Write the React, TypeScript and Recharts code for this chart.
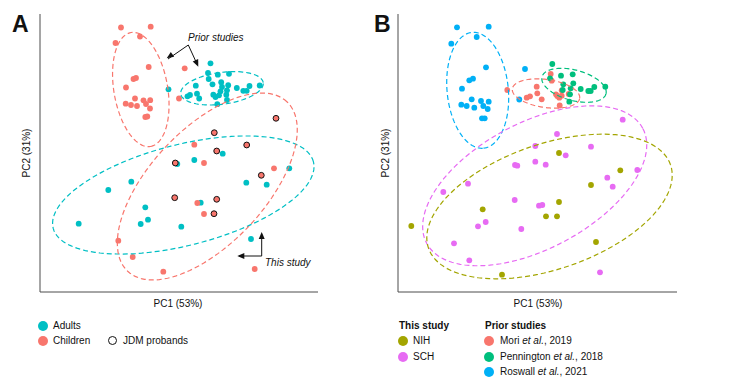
import React from 'react';
import { ScatterChart, Scatter, XAxis, YAxis, ReferenceLine, ReferenceDot } from 'recharts';

// panel A: PC coordinates (arbitrary units)
const adultsPrior = [
  { x: 170.5, y: 228.7 }, { x: 168, y: 219 }, { x: 168.7, y: 213 }, { x: 177.8, y: 217.3 },
  { x: 189, y: 218.2 }, { x: 128.5, y: 202.7 }, { x: 155.8, y: 206.3 }, { x: 147.5, y: 195.7 },
  { x: 150, y: 197 }, { x: 157, y: 198.3 }, { x: 159.2, y: 193.5 }, { x: 172.5, y: 207.7 },
  { x: 181.2, y: 209.8 }, { x: 182, y: 205 }, { x: 188.2, y: 206.8 }, { x: 187, y: 201.7 },
  { x: 173.3, y: 197.3 }, { x: 175.5, y: 195 }, { x: 179, y: 196.7 }, { x: 180.5, y: 200.7 },
  { x: 186.3, y: 197.3 }, { x: 187, y: 192 }, { x: 177.3, y: 187.8 }, { x: 196.8, y: 204 },
  { x: 203.3, y: 201.2 }, { x: 206.7, y: 201.2 }, { x: 209.5, y: 206 }, { x: 219.7, y: 206.5 },
];
const childrenPrior = [
  { x: 81, y: 264.5 }, { x: 110.7, y: 265.3 }, { x: 100, y: 255.5 }, { x: 75.5, y: 249 },
  { x: 108.7, y: 225 }, { x: 93.5, y: 213 }, { x: 96, y: 214 }, { x: 86, y: 204.5 },
  { x: 95, y: 193.5 }, { x: 85.7, y: 188.3 }, { x: 91, y: 187 }, { x: 97, y: 186 },
  { x: 103.5, y: 191.7 }, { x: 110.2, y: 191.8 }, { x: 106, y: 188 }, { x: 110, y: 183.5 },
  { x: 105.3, y: 175 }, { x: 107.3, y: 175.5 }, { x: 144.7, y: 223.7 }, { x: 139, y: 193.5 },
];
const adultsStudy = [
  { x: 182.7, y: 138.3 }, { x: 154.3, y: 132 }, { x: 137.3, y: 128 }, { x: 249.3, y: 123.7 },
  { x: 206.3, y: 109.3 }, { x: 226.7, y: 107.3 }, { x: 91.3, y: 110.3 }, { x: 68.3, y: 102 },
  { x: 160.7, y: 89.3 }, { x: 105.3, y: 84.7 }, { x: 108, y: 72.3 }, { x: 100.7, y: 68 },
  { x: 38.7, y: 68.3 }, { x: 141.3, y: 65.3 }, { x: 211, y: 53 },
];
const childrenStudy = [
  { x: 154.3, y: 147.3 }, { x: 164, y: 129 }, { x: 234, y: 123.7 }, { x: 157.3, y: 89 },
  { x: 164, y: 78 }, { x: 78.3, y: 51.3 }, { x: 92.7, y: 35 }, { x: 123.3, y: 20.3 },
  { x: 214.7, y: 23 },
];
const jdmProbands = [
  { x: 236, y: 173.7 }, { x: 174.3, y: 159.3 }, { x: 206.7, y: 147 }, { x: 176.7, y: 141 },
  { x: 135.3, y: 129 }, { x: 221.3, y: 116.7 }, { x: 134.7, y: 94.3 }, { x: 176.7, y: 92.7 },
  { x: 174, y: 78.3 },
];

// panel B
const roswall = [
  { x: 59, y: 264.7 }, { x: 90.7, y: 265.3 }, { x: 78.7, y: 255 }, { x: 53.3, y: 248.3 },
  { x: 88, y: 224.7 }, { x: 71.3, y: 211.7 }, { x: 75, y: 213.3 }, { x: 64, y: 203.3 },
  { x: 73.7, y: 192.7 }, { x: 63.3, y: 187.3 }, { x: 68.7, y: 186 }, { x: 76.3, y: 184.3 },
  { x: 83, y: 191 }, { x: 90.7, y: 190.3 }, { x: 85.3, y: 186 }, { x: 89.7, y: 183 },
  { x: 84, y: 173.7 }, { x: 86.7, y: 173.7 }, { x: 127, y: 223 }, { x: 121.3, y: 192.5 },
];
const mori = [
  { x: 109.3, y: 202 }, { x: 152.7, y: 218 }, { x: 153.7, y: 211.3 }, { x: 138.7, y: 205.3 },
  { x: 139.3, y: 198.7 }, { x: 143.7, y: 192.7 }, { x: 128.7, y: 194.3 }, { x: 132, y: 195.7 },
  { x: 158, y: 197.7 }, { x: 161.3, y: 194.3 }, { x: 159.3, y: 196 }, { x: 163.7, y: 196.3 },
  { x: 163.7, y: 201.7 }, { x: 170.7, y: 198 }, { x: 161.7, y: 186.5 },
];
const pennington = [
  { x: 154.3, y: 228 }, { x: 163, y: 216.3 }, { x: 174.7, y: 217.7 }, { x: 152, y: 213.7 },
  { x: 165.3, y: 207.7 }, { x: 164.7, y: 202 }, { x: 175.3, y: 208.7 }, { x: 172.7, y: 203.7 },
  { x: 182.7, y: 203 }, { x: 190.3, y: 201 }, { x: 192.7, y: 201 }, { x: 196.3, y: 205 },
  { x: 207.3, y: 205.3 }, { x: 172, y: 197.7 }, { x: 171.3, y: 190.3 },
];
const sch = [
  { x: 224.7, y: 172.3 }, { x: 159, y: 158 }, { x: 137.3, y: 146 }, { x: 193, y: 145.3 },
  { x: 167.7, y: 136.7 }, { x: 117, y: 127 }, { x: 119.3, y: 126.3 }, { x: 137.3, y: 130.3 },
  { x: 147.7, y: 127.3 }, { x: 239.3, y: 122 }, { x: 209.3, y: 114.3 }, { x: 214.7, y: 105.3 },
  { x: 70, y: 108.3 }, { x: 45.3, y: 100 }, { x: 116.7, y: 92 }, { x: 141, y: 86.3 },
  { x: 144.3, y: 87 }, { x: 87.7, y: 70 }, { x: 80, y: 65.7 }, { x: 123.3, y: 63 },
  { x: 56, y: 48.7 }, { x: 71.3, y: 31.7 }, { x: 202, y: 19.7 },
];
const nih = [
  { x: 161, y: 139 }, { x: 222.3, y: 121.7 }, { x: 193, y: 107 }, { x: 161, y: 90 },
  { x: 84.7, y: 82.7 }, { x: 148, y: 75.7 }, { x: 159, y: 75.7 }, { x: 13.3, y: 66 },
  { x: 198, y: 50 }, { x: 104, y: 17.3 },
];

// confidence ellipses: [cx, cy, semi-major, semi-minor, angle deg]
const ellChildrenPrior = [100.8, 202.5, 57.8, 26.9, -80.3];
const ellAdultsPrior = [182, 203.7, 41.6, 15.9, 7.75];
const ellAdultsStudy = [143.3, 97, 134.3, 50.4, 14.3];
const ellChildrenStudy = [167.3, 105.5, 116.3, 57.5, 46.8];
const ellRoswall = [79.7, 201.7, 58.2, 30.6, -84.3];
const ellMori = [148, 198.5, 34, 14, -8];
const ellPennington = [176, 206.7, 33.1, 15.2, -15];
const ellSch = [136.7, 106.2, 122.4, 63, 28];
const ellNih = [151.5, 85.5, 128, 62.5, 19];

const TEAL = '#00BFC4';
const RED = '#F8766D';
const OLIVE = '#A3A500';
const GREEN = '#00BF7D';
const BLUE = '#00B0F6';
const PINK = '#E76BF3';
const AXIS = '#4d4d4d';
const FONT = '"Liberation Sans", Arial, sans-serif';

const ellipse = (e: number[]) => {
  const [cx, cy, a, b, deg] = e;
  const th = (deg * Math.PI) / 180;
  const pts = [];
  for (let i = 0; i <= 120; i++) {
    const t = (2 * Math.PI * i) / 120;
    pts.push({
      x: cx + a * Math.cos(t) * Math.cos(th) - b * Math.sin(t) * Math.sin(th),
      y: cy + a * Math.cos(t) * Math.sin(th) + b * Math.sin(t) * Math.cos(th),
    });
  }
  return pts;
};

const dot = (fill: string, stroke?: string) => (p: any) => (
  <circle cx={p.cx} cy={p.cy} r={2.9} fill={fill} stroke={stroke || 'none'} strokeWidth={stroke ? 1 : 0} />
);

const renderEllipse = (e: number[], color: string, key: string) => (
  <Scatter
    key={key}
    data={ellipse(e)}
    line={{ stroke: color, strokeWidth: 1.2, strokeDasharray: '5 3' }}
    lineType="joint"
    shape={() => <g />}
    isAnimationActive={false}
  />
);

// arrowhead pointing in screen direction `deg` (0 = right, 90 = down)
const arrowHead = (deg: number) => (p: any) => (
  <path
    d="M0,0 L-7,-3 L-7,3 Z"
    fill="#111"
    transform={`translate(${p.cx},${p.cy}) rotate(${deg})`}
  />
);

const note = (txt: string, anchor: 'start' | 'middle') => (p: any) => (
  <text x={p.cx} y={p.cy} textAnchor={anchor} dominantBaseline="central" fontSize={10} fontStyle="italic" fontFamily={FONT} fill="#111">
    {txt}
  </text>
);

const axes = (xMax: number) => [
  <XAxis key="x" type="number" dataKey="x" domain={[0, xMax]} allowDataOverflow tick={false} tickLine={false} height={1} axisLine={{ stroke: AXIS }} />,
  <YAxis key="y" type="number" dataKey="y" domain={[0, 278]} allowDataOverflow tick={false} tickLine={false} width={1} axisLine={{ stroke: AXIS }} />,
];

const txt: React.CSSProperties = { position: 'absolute', fontSize: 10, fontFamily: FONT, color: '#111', whiteSpace: 'nowrap', lineHeight: '12px' };
const swatch = (c: string, left: number, top: number) => (
  <div style={{ position: 'absolute', left: left - 5, top: top - 5, width: 10, height: 10, borderRadius: 5, background: c }} />
);
const label = (s: React.ReactNode, left: number, top: number, extra: React.CSSProperties = {}) => (
  <div style={{ ...txt, left, top: top - 6, ...extra }}>{s}</div>
);

export default function App() {
  return (
    <div style={{ position: 'absolute', left: 0, top: 0, width: 752, height: 388, background: '#fff', fontFamily: FONT }}>
      {/* Panel A */}
      <div style={{ position: 'absolute', left: 0, top: 0 }}>
        <ScatterChart width={376} height={300} margin={{ top: 14, right: 58, bottom: 7, left: 39 }}>
          {axes(278)}
          <Scatter data={adultsPrior} shape={dot(TEAL)} isAnimationActive={false} />
          <Scatter data={adultsStudy} shape={dot(TEAL)} isAnimationActive={false} />
          <Scatter data={childrenPrior} shape={dot(RED)} isAnimationActive={false} />
          <Scatter data={childrenStudy} shape={dot(RED)} isAnimationActive={false} />
          <Scatter data={jdmProbands} shape={dot(RED, '#111')} isAnimationActive={false} />
          {renderEllipse(ellChildrenPrior, RED, 'e1')}
          {renderEllipse(ellAdultsPrior, TEAL, 'e2')}
          {renderEllipse(ellAdultsStudy, TEAL, 'e3')}
          {renderEllipse(ellChildrenStudy, RED, 'e4')}
          <ReferenceLine segment={[{ x: 148.3, y: 247 }, { x: 128, y: 233 }]} stroke="#111" strokeWidth={1} />
          <ReferenceLine segment={[{ x: 148.3, y: 247 }, { x: 157.5, y: 227 }]} stroke="#111" strokeWidth={1} />
          <ReferenceDot x={126.7} y={233.7} shape={arrowHead(146)} />
          <ReferenceDot x={158.3} y={225.3} shape={arrowHead(66)} />
          <ReferenceDot x={148} y={255} shape={note('Prior studies', 'start')} />
          <ReferenceLine segment={[{ x: 221.7, y: 36 }, { x: 221.7, y: 58 }]} stroke="#111" strokeWidth={1} />
          <ReferenceLine segment={[{ x: 221.7, y: 36 }, { x: 199, y: 36 }]} stroke="#111" strokeWidth={1} />
          <ReferenceDot x={221.7} y={60} shape={arrowHead(-90)} />
          <ReferenceDot x={197.3} y={36} shape={arrowHead(180)} />
          <ReferenceDot x={225} y={30} shape={note('This study', 'start')} />
        </ScatterChart>
      </div>

      {/* Panel B */}
      <div style={{ position: 'absolute', left: 376, top: 0 }}>
        <ScatterChart width={376} height={300} margin={{ top: 14, right: 75, bottom: 7, left: 21 }}>
          {axes(279)}
          <Scatter data={roswall} shape={dot(BLUE)} isAnimationActive={false} />
          <Scatter data={mori} shape={dot(RED)} isAnimationActive={false} />
          <Scatter data={pennington} shape={dot(GREEN)} isAnimationActive={false} />
          <Scatter data={sch} shape={dot(PINK)} isAnimationActive={false} />
          <Scatter data={nih} shape={dot(OLIVE)} isAnimationActive={false} />
          {renderEllipse(ellRoswall, BLUE, 'b1')}
          {renderEllipse(ellMori, RED, 'b2')}
          {renderEllipse(ellPennington, GREEN, 'b3')}
          {renderEllipse(ellSch, PINK, 'b4')}
          {renderEllipse(ellNih, OLIVE, 'b5')}
        </ScatterChart>
      </div>

      {/* panel letters */}
      <div style={{ ...txt, left: 12, top: 12, fontSize: 23, fontWeight: 'bold', lineHeight: '24px' }}>A</div>
      <div style={{ ...txt, left: 374, top: 12, fontSize: 23, fontWeight: 'bold', lineHeight: '24px' }}>B</div>

      {/* axis titles */}
      <div style={{ ...txt, left: 178, top: 298, transform: 'translateX(-50%)' }}>PC1 (53%)</div>
      <div style={{ ...txt, left: 538, top: 298, transform: 'translateX(-50%)' }}>PC1 (53%)</div>
      <div style={{ ...txt, left: 27, top: 153, transform: 'translate(-50%,-50%) rotate(-90deg)' }}>PC2 (31%)</div>
      <div style={{ ...txt, left: 386, top: 153, transform: 'translate(-50%,-50%) rotate(-90deg)' }}>PC2 (31%)</div>

      {/* legend A */}
      {swatch(TEAL, 43, 326)}
      {label('Adults', 53, 326)}
      {swatch(RED, 43, 341)}
      {label('Children', 53, 341)}
      <div style={{ position: 'absolute', left: 108, top: 336, width: 7, height: 7, borderRadius: 5, border: '1.5px solid #111' }} />
      {label('JDM probands', 123, 341)}

      {/* legend B */}
      {label('This study', 399, 326, { fontWeight: 'bold' })}
      {swatch(OLIVE, 403, 341)}
      {label('NIH', 413, 341)}
      {swatch(PINK, 403, 357)}
      {label('SCH', 413, 357)}
      {label('Prior studies', 485, 326, { fontWeight: 'bold' })}
      {swatch(RED, 489, 341)}
      {label(<>Mori <i>et al.</i>, 2019</>, 500, 341)}
      {swatch(GREEN, 489, 357)}
      {label(<>Pennington <i>et al.</i>, 2018</>, 500, 357)}
      {swatch(BLUE, 489, 372)}
      {label(<>Roswall <i>et al.</i>, 2021</>, 500, 372)}
    </div>
  );
}
